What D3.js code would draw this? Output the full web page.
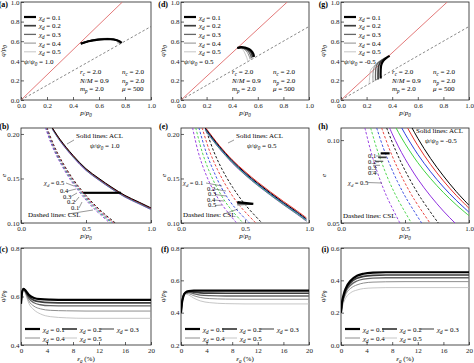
<!DOCTYPE html>
<html>
<head>
<meta charset="utf-8">
<script src="https://cdn.jsdelivr.net/npm/d3@7"></script>
<style>
  body { margin: 0; background: #fff; }
  svg { font-family: "Liberation Serif", "Times New Roman", serif; }
</style>
</head>
<body>
<svg id="fig" width="474" height="363"></svg>
<script>
// ---------- data ----------
const chiD = [0.1, 0.2, 0.3, 0.4, 0.5]
const psiRatio = ["1.0", "0.5", "-0.5"]
const panelNames = [["(a)", "(b)", "(c)"], ["(d)", "(e)", "(f)"], ["(g)", "(h)", "(i)"]]

// tick values
const ticksP = [0, 0.2, 0.4, 0.6, 0.8, 1.0]
const ticksQ = [0, 0.2, 0.4, 0.6, 0.8, 1.0]
const ticksPe = [0, 0.5, 1.0]
const ticksE1 = [0.10, 0.15, 0.20]
const ticksE3 = [0.05, 0.10]
const ticksEps = [0, 4, 8, 12, 16, 20]
const ticksQc = [0.4, 0.6, 0.8]
const ticksQf = [0.2, 0.4, 0.6, 0.8]
const ticksQi = [0.0, 0.2, 0.4, 0.6]

// row 1 reference lines [p/p0, q/p0]
const redLineA = [[0, 0], [0.78, 1]]
const redLineDG = [[0, 0], [0.83, 1]]
const dashLine = [[0, 0], [1, 0.75]]

// row 1 stress paths, one list per chi_d
const pathA = [
  [[0.46, 0.575], [0.52, 0.600], [0.58, 0.613], [0.64, 0.620], [0.69, 0.620], [0.73, 0.612], [0.76, 0.598], [0.775, 0.583]],
  [[0.46, 0.575], [0.52, 0.601], [0.58, 0.615], [0.64, 0.622], [0.69, 0.622], [0.73, 0.613], [0.755, 0.598], [0.77, 0.580]],
  [[0.46, 0.575], [0.52, 0.602], [0.58, 0.617], [0.64, 0.625], [0.69, 0.625], [0.725, 0.615], [0.75, 0.598], [0.765, 0.578]],
  [[0.46, 0.575], [0.52, 0.603], [0.58, 0.619], [0.64, 0.627], [0.69, 0.627], [0.72, 0.617], [0.745, 0.598], [0.755, 0.575]],
  [[0.46, 0.575], [0.52, 0.604], [0.58, 0.621], [0.64, 0.630], [0.685, 0.629], [0.715, 0.618], [0.74, 0.598], [0.745, 0.572]]
]
const pathD = [
  [[0.44, 0.53], [0.47, 0.54], [0.50, 0.535], [0.53, 0.52], [0.55, 0.50], [0.565, 0.47], [0.57, 0.44]],
  [[0.44, 0.53], [0.47, 0.537], [0.50, 0.53], [0.525, 0.513], [0.545, 0.49], [0.555, 0.46], [0.56, 0.435]],
  [[0.44, 0.53], [0.47, 0.535], [0.495, 0.525], [0.52, 0.505], [0.535, 0.48], [0.545, 0.45], [0.55, 0.425]],
  [[0.44, 0.53], [0.465, 0.532], [0.49, 0.52], [0.51, 0.50], [0.525, 0.47], [0.535, 0.44], [0.54, 0.415]],
  [[0.44, 0.53], [0.46, 0.53], [0.48, 0.515], [0.495, 0.49], [0.505, 0.46], [0.515, 0.43], [0.52, 0.40]]
]
const pathG = [
  [[0.31, 0.22], [0.31, 0.30], [0.315, 0.36], [0.33, 0.40], [0.355, 0.43], [0.38, 0.45]],
  [[0.29, 0.21], [0.29, 0.29], [0.295, 0.35], [0.31, 0.39], [0.33, 0.415], [0.355, 0.43]],
  [[0.27, 0.20], [0.27, 0.28], [0.275, 0.34], [0.29, 0.38], [0.31, 0.40], [0.33, 0.415]],
  [[0.25, 0.19], [0.25, 0.27], [0.255, 0.32], [0.27, 0.36], [0.29, 0.38], [0.305, 0.39]],
  [[0.22, 0.17], [0.225, 0.25], [0.23, 0.30], [0.245, 0.33], [0.26, 0.35], [0.275, 0.36]]
]

// row 2: ACL (solid) e values on a p grid, CSL (dashed) p values on an e grid
const pGridB = [0.24, 0.3, 0.4, 0.5, 0.6, 0.7, 0.8, 0.9, 1.0]
const aclB = [
  [0.207, 0.194, 0.176, 0.161, 0.150, 0.140, 0.131, 0.124, 0.117],
  [0.207, 0.1935, 0.1755, 0.1605, 0.1495, 0.1395, 0.1305, 0.1235, 0.1165],
  [0.2065, 0.193, 0.175, 0.160, 0.149, 0.139, 0.130, 0.123, 0.116],
  [0.206, 0.1925, 0.1745, 0.1595, 0.1485, 0.1385, 0.1295, 0.1225, 0.1155],
  [0.2055, 0.192, 0.174, 0.159, 0.148, 0.138, 0.129, 0.122, 0.115]
]
const eGridB = [0.207, 0.19, 0.173, 0.149, 0.131, 0.116, 0.100]
const cslB = [
  [0.200, 0.245, 0.301, 0.402, 0.500, 0.598, 0.726],
  [0.197, 0.241, 0.296, 0.396, 0.492, 0.589, 0.715],
  [0.194, 0.237, 0.291, 0.390, 0.485, 0.580, 0.705],
  [0.191, 0.233, 0.287, 0.384, 0.478, 0.571, 0.695],
  [0.188, 0.230, 0.282, 0.378, 0.470, 0.562, 0.684]
]
const undrainedB = [
  [[0.48, 0.134], [0.77, 0.134]], [[0.48, 0.134], [0.765, 0.134]], [[0.48, 0.134], [0.76, 0.134]],
  [[0.48, 0.134], [0.755, 0.134]], [[0.48, 0.134], [0.75, 0.134]]
]

const pGridE = [0.19, 0.25, 0.3, 0.4, 0.5, 0.6, 0.7, 0.8, 0.9, 0.98]
const aclE = [
  [0.2065, 0.195, 0.186, 0.170, 0.1565, 0.1445, 0.1335, 0.123, 0.113, 0.1045],
  [0.2075, 0.196, 0.187, 0.171, 0.1578, 0.1458, 0.1348, 0.1243, 0.1143, 0.1058],
  [0.2055, 0.194, 0.185, 0.169, 0.1555, 0.1435, 0.1325, 0.122, 0.112, 0.1035],
  [0.2045, 0.193, 0.184, 0.168, 0.1545, 0.1425, 0.1315, 0.121, 0.111, 0.1025],
  [0.204, 0.1925, 0.1835, 0.1675, 0.154, 0.142, 0.131, 0.1205, 0.1105, 0.102]
]
const eGridE = [0.207, 0.18, 0.16, 0.14, 0.12, 0.10]
const cslE = [
  [0.19, 0.257, 0.322, 0.404, 0.505, 0.633],
  [0.165, 0.225, 0.285, 0.36, 0.455, 0.585],
  [0.14, 0.195, 0.25, 0.315, 0.405, 0.535],
  [0.115, 0.165, 0.215, 0.28, 0.365, 0.485],
  [0.09, 0.134, 0.18, 0.241, 0.324, 0.435]
]
const undrainedE = [
  [[0.44, 0.1235], [0.565, 0.1215]], [[0.44, 0.1225], [0.555, 0.1213]], [[0.44, 0.1215], [0.545, 0.1211]],
  [[0.44, 0.1205], [0.53, 0.1209]], [[0.44, 0.1195], [0.515, 0.1207]]
]

const pGridH = [0.35, 0.4, 0.45, 0.5, 0.6, 0.7, 0.8, 0.9, 1.0]
const aclH = [
  [0.1437, 0.1332, 0.1239, 0.1155, 0.1011, 0.0889, 0.0784, 0.0690, 0.0607],
  [0.1366, 0.1267, 0.1180, 0.1102, 0.0967, 0.0853, 0.0754, 0.0667, 0.0589],
  [0.1282, 0.1191, 0.1110, 0.1038, 0.0914, 0.0809, 0.0717, 0.0637, 0.0565],
  [0.1202, 0.1118, 0.1045, 0.0979, 0.0864, 0.0768, 0.0684, 0.0610, 0.0544],
  [0.1128, 0.1038, 0.0959, 0.0888, 0.0765, 0.0662, 0.0572, 0.0493, 0.0422]
]
const eGridH = [0.1073, 0.095, 0.085, 0.075, 0.065, 0.05]
const cslH = [
  [0.357, 0.42, 0.479, 0.547, 0.624, 0.76],
  [0.318, 0.376, 0.431, 0.494, 0.566, 0.695],
  [0.279, 0.332, 0.383, 0.441, 0.509, 0.63],
  [0.232, 0.279, 0.325, 0.377, 0.439, 0.55],
  [0.187, 0.227, 0.265, 0.31, 0.363, 0.46]
]
const undrainedH = [
  [[0.31, 0.092], [0.38, 0.092]], [[0.29, 0.0896], [0.355, 0.0896]], [[0.27, 0.0872], [0.33, 0.0872]],
  [[0.25, 0.0848], [0.305, 0.0848]], [[0.22, 0.081], [0.275, 0.081]]
]

// row 3: q/p0 against eps_q (%)
const epsC = [0, 0.15, 0.4, 0.7, 1.2, 2, 3, 4.5, 7, 10, 20]
const qC = [
  [0.57, 0.615, 0.632, 0.625, 0.607, 0.594, 0.589, 0.587, 0.586, 0.586, 0.586],
  [0.57, 0.615, 0.632, 0.622, 0.600, 0.584, 0.578, 0.575, 0.574, 0.574, 0.574],
  [0.57, 0.615, 0.632, 0.618, 0.592, 0.574, 0.566, 0.562, 0.561, 0.561, 0.561],
  [0.57, 0.615, 0.632, 0.614, 0.582, 0.560, 0.549, 0.543, 0.541, 0.540, 0.540],
  [0.57, 0.615, 0.632, 0.610, 0.572, 0.545, 0.528, 0.517, 0.512, 0.510, 0.510]
]
const epsF = [0, 0.15, 0.4, 0.7, 1.2, 2, 3, 4.5, 7, 10, 20]
const qF = [
  [0.40, 0.46, 0.505, 0.525, 0.534, 0.536, 0.536, 0.536, 0.536, 0.536, 0.536],
  [0.40, 0.46, 0.505, 0.524, 0.530, 0.527, 0.523, 0.521, 0.520, 0.520, 0.520],
  [0.40, 0.46, 0.504, 0.522, 0.525, 0.517, 0.509, 0.505, 0.503, 0.503, 0.503],
  [0.40, 0.46, 0.503, 0.520, 0.518, 0.505, 0.494, 0.487, 0.484, 0.483, 0.483],
  [0.40, 0.46, 0.502, 0.515, 0.509, 0.490, 0.473, 0.462, 0.456, 0.454, 0.454]
]
const epsI = [0, 0.15, 0.4, 0.8, 1.5, 2.5, 3.5, 5, 7, 10, 20]
const qI = [
  [0.20, 0.26, 0.31, 0.355, 0.398, 0.428, 0.441, 0.448, 0.450, 0.450, 0.450],
  [0.20, 0.255, 0.30, 0.345, 0.385, 0.413, 0.425, 0.431, 0.433, 0.433, 0.433],
  [0.20, 0.25, 0.29, 0.333, 0.370, 0.396, 0.408, 0.414, 0.416, 0.416, 0.416],
  [0.20, 0.24, 0.278, 0.318, 0.350, 0.372, 0.383, 0.389, 0.391, 0.392, 0.392],
  [0.19, 0.225, 0.26, 0.295, 0.323, 0.340, 0.349, 0.353, 0.355, 0.355, 0.355]
]

// ---------- styles ----------
const greys = ["#000000", "#3c3c3c", "#666666", "#8e8e8e", "#b8b8b8"]
const widths = [2.2, 1.7, 1.3, 1.0, 0.8]
const hues = ["#000000", "#e8302a", "#2b3fe0", "#3fd43f", "#9030e0"]
const cols = [[21, 151], [181, 309], [341, 469]]
const rows = [[2, 100], [128, 223], [248, 345]]
const labelPos = [[[8, 7], [9, 128.5], [8, 252]], [[168, 7], [168, 128.5], [169, 252]], [[328, 7], [328, 128.5], [329, 252]]]

const svg = d3.select("#fig")
const fmt1 = d3.format(".1f"), fmt2 = d3.format(".2f"), fmt0 = d3.format("d")

// text with italic pieces and subscripts: parts = [[str, kind], ...]
function rich(g, x, y, parts, size = 7, anchor = "start") {
  const t = g.append("text").attr("x", x).attr("y", y).attr("font-size", size).attr("text-anchor", anchor)
  let shift = 0
  parts.forEach(([s, k]) => {
    const sp = t.append("tspan").text(s)
    if (k === "i" || k === "sub") sp.attr("font-style", "italic")
    if (k === "sub") { sp.attr("font-size", size * 0.72).attr("dy", 2 - shift); shift = 2 }
    else if (shift) { sp.attr("dy", -shift); shift = 0 }
  })
  return t
}
const chiText = v => [["χ", "i"], ["d", "sub"], [" = " + v]]
const psiText = v => [["ψ", "i"], ["/"], ["ψ", "i"], ["0", "sub"], [" = " + v]]

function panel(ci, ri, o) {
  const [x0, x1] = cols[ci], [y0, y1] = rows[ri]
  const x = d3.scaleLinear().domain(o.xd).range([x0, x1])
  const y = d3.scaleLinear().domain(o.yd).range([y1, y0])
  const g = svg.append("g")
  g.append("g").attr("transform", `translate(0,${y1})`)
    .call(d3.axisBottom(x).tickValues(o.xt).tickFormat(o.xf).tickSize(-3).tickSizeOuter(0).tickPadding(3))
  g.append("g").attr("transform", `translate(${x0},0)`)
    .call(d3.axisLeft(y).tickValues(o.yt).tickFormat(o.yf).tickSize(-3).tickSizeOuter(0).tickPadding(1.5))
  g.selectAll(".domain").remove()
  g.selectAll(".tick text").attr("font-size", 7).attr("font-family", "Liberation Serif, serif").attr("fill", "#222")
  g.selectAll(".tick line").attr("stroke", "#222").attr("stroke-width", 0.7)
  g.append("rect").attr("x", x0).attr("y", y0).attr("width", x1 - x0).attr("height", y1 - y0)
    .attr("fill", "none").attr("stroke", "#222").attr("stroke-width", 0.8)
  const id = `clip${ci}${ri}`
  svg.append("clipPath").attr("id", id).append("rect")
    .attr("x", x0).attr("y", y0).attr("width", x1 - x0).attr("height", y1 - y0)
  const plot = g.append("g").attr("clip-path", `url(#${id})`)
  const [lx, ly] = labelPos[ci][ri]
  g.append("text").attr("x", lx).attr("y", ly).attr("text-anchor", "end")
    .attr("font-weight", "bold").attr("font-size", 8).text(panelNames[ci][ri])
  rich(g, (x0 + x1) / 2, o.xTitleY, o.xTitle, 7, "middle")
  rich(g, 0, 0, o.yTitle, 7, "middle").attr("transform", `translate(${o.yTitleX},${(y0 + y1) / 2}) rotate(-90)`)
  return { x, y, plot, g, x0, x1, y0, y1 }
}

const pTitle = [["p", "i"], ["/"], ["p", "i"], ["0", "sub"]]
const qTitle = [["q", "i"], ["/"], ["p", "i"], ["0", "sub"]]
const eTitle = [["e", "i"]]
const epsTitle = [["ε", "i"], ["q", "sub"], [" (%)"]]

// ---------- row 1: stress paths ----------
const paths1 = [pathA, pathD, pathG]
const redLines = [redLineA, redLineDG, redLineDG]
const paramX = [[80, 122], [232, 273], [392, 433]]
paths1.forEach((paths, ci) => {
  const P = panel(ci, 0, {
    xd: [0, 1], yd: [0, 1], xt: ticksP, yt: ticksQ, xf: fmt1, yf: fmt1,
    xTitle: pTitle, xTitleY: 115, yTitle: qTitle, yTitleX: cols[ci][0] - 16
  })
  const line = d3.line().x(d => P.x(d[0])).y(d => P.y(d[1]))
  P.plot.append("path").attr("d", line(redLines[ci])).attr("stroke", "#e06a6a").attr("stroke-width", 0.9).attr("fill", "none")
  P.plot.append("path").attr("d", line(dashLine)).attr("stroke", "#555").attr("stroke-width", 0.7)
    .attr("stroke-dasharray", "2.5,2").attr("fill", "none")
  const curve = d3.line().x(d => P.x(d[0])).y(d => P.y(d[1])).curve(d3.curveCatmullRom.alpha(0.5))
  paths.slice().reverse().forEach((pts, k) => {
    const i = paths.length - 1 - k
    P.plot.append("path").attr("d", curve(pts)).attr("fill", "none")
      .attr("stroke", greys[i]).attr("stroke-width", widths[i])
  })
  // legend
  const lx = P.x0 + 3
  chiD.forEach((v, i) => {
    const ly = 17 + i * 8.7
    P.g.append("line").attr("x1", lx).attr("x2", lx + 12).attr("y1", ly).attr("y2", ly)
      .attr("stroke", greys[i]).attr("stroke-width", widths[i])
    rich(P.g, lx + 15, ly + 2.5, chiText(v), 7)
  })
  rich(P.g, lx, 64, psiText(psiRatio[ci]), 7)
  const [ax, bx] = paramX[ci]
  rich(P.g, ax, 74, [["r", "i"], ["c", "sub"], [" = 2.0"]], 7)
  rich(P.g, bx, 74, [["n", "i"], ["c", "sub"], [" = 2.0"]], 7)
  rich(P.g, ax, 82.5, [["N", "i"], ["/"], ["M", "i"], [" = 0.9"]], 7)
  rich(P.g, bx, 82.5, [["n", "i"], ["p", "sub"], [" = 2.0"]], 7)
  rich(P.g, ax, 91, [["m", "i"], ["p", "sub"], [" = 2.0"]], 7)
  rich(P.g, bx, 91, [["μ", "i"], [" = 500"]], 7)
})

// ---------- row 2: e - p/p0 ----------
const row2 = [
  { acl: aclB, pg: pGridB, csl: cslB, eg: eGridB, ud: undrainedB, yd: [0.10, 0.2067], yt: ticksE1 },
  { acl: aclE, pg: pGridE, csl: cslE, eg: eGridE, ud: undrainedE, yd: [0.10, 0.2067], yt: ticksE1 },
  { acl: aclH, pg: pGridH, csl: cslH, eg: eGridH, ud: undrainedH, yd: [0.05, 0.1073], yt: ticksE3 }
]
const row2Notes = [
  { acl: [76, 138], psi: [90, 148], lead: [[74, 140], [67, 144]], dash: [28, 217], dashLead: [[68, 214], [93, 210]],
    labels: [[44, 185, "0.5", true], [60, 193], [63, 198.5], [67, 204], [71, 210]], order: [4, 3, 2, 1, 0],
    tips: [[66, 183, 74, 186], [68, 191, 76, 189], [71, 196.5, 77, 193], [75, 202, 79, 197], [79, 208, 82, 202]] },
  { acl: [236, 138], psi: [247, 148], lead: [[234, 140], [228, 143]], dash: [183, 217], dashLead: [[224, 214], [238, 209]],
    labels: [[183, 185, "0.1", true], [207, 190.5], [208, 196], [207, 201.5], [208, 207]], order: [0, 1, 2, 3, 4],
    tips: [[206, 183, 222, 186], [214, 189, 226, 191], [215, 194.5, 226, 196], [214, 200, 224, 201], [215, 205.5, 222, 205]] },
  { acl: [416, 133], psi: [425, 143], lead: null, dash: [343, 218], dashLead: null,
    labels: [[368, 158], [368, 164], [368, 169.5], [368, 175], [348, 184.5, "0.5", true]], order: [0, 1, 2, 3, 4],
    tips: [[376, 156, 381, 156], [376, 162, 379, 162], [376, 167.5, 377, 167.5], [376, 173, 377, 173], [367, 182.5, 382, 183]] }
]
row2.forEach((r, ci) => {
  const P = panel(ci, 1, {
    xd: [0, 1], yd: r.yd, xt: ticksPe, yt: r.yt, xf: fmt1, yf: fmt2,
    xTitle: pTitle, xTitleY: 238, yTitle: eTitle, yTitleX: cols[ci][0] - 15
  })
  const curve = d3.line().x(d => P.x(d[0])).y(d => P.y(d[1])).curve(d3.curveCatmullRom.alpha(0.5))
  r.csl.forEach((ps, i) => {
    P.plot.append("path").attr("d", curve(ps.map((p, j) => [p, r.eg[j]]))).attr("fill", "none")
      .attr("stroke", hues[i]).attr("stroke-width", 0.9).attr("stroke-dasharray", "2.5,1.8")
  })
  r.acl.slice().reverse().forEach((es, k) => {
    const i = r.acl.length - 1 - k
    P.plot.append("path").attr("d", curve(r.pg.map((p, j) => [p, es[j]]))).attr("fill", "none")
      .attr("stroke", hues[i]).attr("stroke-width", 1)
  })
  r.ud.slice().reverse().forEach((pts, k) => {
    const i = r.ud.length - 1 - k
    P.plot.append("path").attr("d", d3.line().x(d => P.x(d[0])).y(d => P.y(d[1]))(pts)).attr("fill", "none")
      .attr("stroke", greys[i]).attr("stroke-width", widths[i])
  })
  const n = row2Notes[ci]
  rich(P.g, n.acl[0], n.acl[1], [["Solid lines: ACL"]], 7)
  rich(P.g, n.psi[0], n.psi[1], psiText(psiRatio[ci]), 7)
  rich(P.g, n.dash[0], n.dash[1], [["Dashed lines: CSL"]], 7)
  if (n.lead) P.g.append("line").attr("x1", n.lead[0][0]).attr("y1", n.lead[0][1]).attr("x2", n.lead[1][0]).attr("y2", n.lead[1][1]).attr("stroke", "#333").attr("stroke-width", 0.5)
  if (n.dashLead) P.g.append("line").attr("x1", n.dashLead[0][0]).attr("y1", n.dashLead[0][1]).attr("x2", n.dashLead[1][0]).attr("y2", n.dashLead[1][1]).attr("stroke", "#333").attr("stroke-width", 0.5)
  n.labels.forEach((l, k) => {
    const v = chiD[n.order[k]]
    rich(P.g, l[0], l[1], l[3] ? chiText(v) : [[String(v)]], 6.5)
    const t = n.tips[k]
    P.g.append("line").attr("x1", t[0]).attr("y1", t[1]).attr("x2", t[2]).attr("y2", t[3]).attr("stroke", "#333").attr("stroke-width", 0.5)
  })
})

// ---------- row 3: q/p0 - eps_q ----------
const row3 = [
  { eps: epsC, q: qC, yd: [0.4, 0.8], yt: ticksQc },
  { eps: epsF, q: qF, yd: [0.2, 0.8], yt: ticksQf },
  { eps: epsI, q: qI, yd: [0.0, 0.6], yt: ticksQi }
]
row3.forEach((r, ci) => {
  const P = panel(ci, 2, {
    xd: [0, 20], yd: r.yd, xt: ticksEps, yt: r.yt, xf: fmt0, yf: fmt1,
    xTitle: epsTitle, xTitleY: 361, yTitle: qTitle, yTitleX: cols[ci][0] - 16
  })
  const line = d3.line().x(d => P.x(d[0])).y(d => P.y(d[1])).curve(d3.curveMonotoneX)
  r.q.slice().reverse().forEach((qs, k) => {
    const i = r.q.length - 1 - k
    P.plot.append("path").attr("d", line(r.eps.map((e, j) => [e, qs[j]]))).attr("fill", "none")
      .attr("stroke", greys[i]).attr("stroke-width", widths[i])
  })
  chiD.forEach((v, i) => {
    const cx = P.x0 + 4 + (i % 3) * 37, cy = 329 + Math.floor(i / 3) * 9
    P.g.append("line").attr("x1", cx).attr("x2", cx + 15).attr("y1", cy).attr("y2", cy)
      .attr("stroke", greys[i]).attr("stroke-width", widths[i])
    rich(P.g, cx + 18, cy + 2.5, chiText(v), 7)
  })
})
</script>
</body>
</html>
